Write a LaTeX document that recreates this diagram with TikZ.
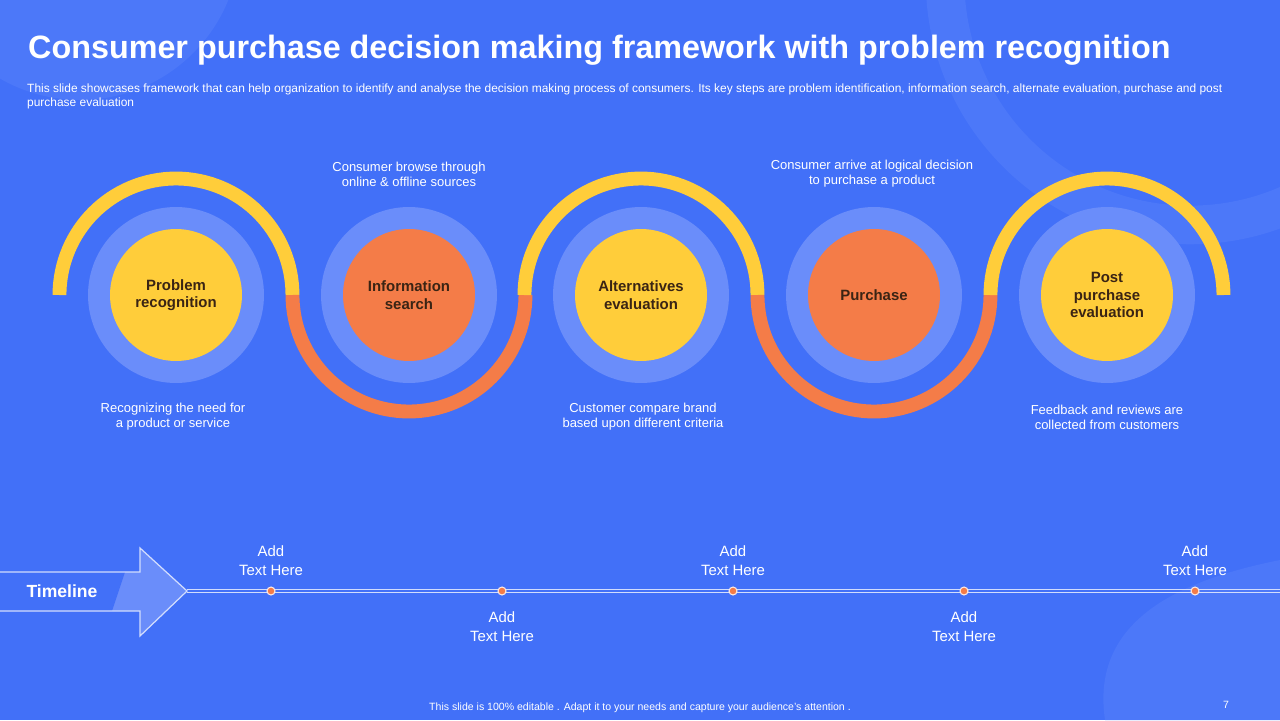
\documentclass[tikz,border=0pt]{standalone}
\usepackage{fontspec}
\setmainfont{Liberation Sans}
\usetikzlibrary{positioning}
\definecolor{bgblue}{HTML}{4270F8}
\definecolor{ringblue}{HTML}{6A8DFA}
\definecolor{decoblue}{HTML}{4C78F9}
\definecolor{stepyellow}{HTML}{FFCD3A}
\definecolor{steporange}{HTML}{F47C48}
\definecolor{stepink}{HTML}{3A2414}

\tikzset{
    ring/.style={circle,fill=ringblue,minimum size=3.52cm,inner sep=0pt},
    stepcore/.style={circle,minimum size=2.64cm,inner sep=0pt,align=center,
        font=\fontsize{8.5}{10}\selectfont\bfseries,text=stepink},
    note/.style={align=center,text=white,font=\fontsize{7.4}{8.6}\selectfont},
    tick/.style={circle,fill=steporange,draw=white!85!steporange,line width=0.6pt,
        minimum size=0.16cm,inner sep=0pt},
    band/.style={line width=7.9pt},
}

\begin{document}
\begin{tikzpicture}[x=0.02cm,y=-0.02cm]
        \fill[bgblue] (0,0) rectangle (1280,720);
        \useasboundingbox (0,0) rectangle (1280,720);

        % faint background shapes
        \fill[decoblue] (80,-60) circle (3.2cm);
        \draw[decoblue,line width=22pt] (1190,-20) circle (4.9cm);
        \fill[decoblue] (1280,560) .. controls (1180,580) and (1090,620) .. (1105,720) -- (1280,720) -- cycle;

        % title and description
        \node[anchor=west,text=white,font=\fontsize{18.4}{20}\selectfont\bfseries] (title) at (22,50)
            {Consumer purchase decision making framework with problem recognition};
        \node[anchor=north west,text=white,align=left,
              font=\fontsize{6.8}{7.9}\selectfont] (desc) at (21,78)
            {This slide showcases framework that can help organization to identify and analyse the decision making process of consumers. Its key steps are problem identification, information search, alternate evaluation, purchase and post\\purchase evaluation};

        % step circles
        \foreach \cx/\nm/\col/\txt in {176/prob/stepyellow/{Problem\\recognition},
                                       409/info/steporange/{Information\\search},
                                       641/alt/stepyellow/{Alternatives\\evaluation},
                                       874/buy/steporange/{Purchase},
                                       1107/post/stepyellow/{Post\\purchase\\evaluation}}{
            \node[ring] (\nm ring) at (\cx,295) {};
            \node[stepcore,fill=\col] (\nm) at (\cx,295) {\txt};
        }

        % winding bands
        \draw[band,stepyellow]  (59.5,295) arc[start angle=180,end angle=0,radius=2.33cm];
        \draw[band,steporange] (292.5,295) arc[start angle=180,end angle=360,radius=2.33cm];
        \draw[band,stepyellow] (524.5,295) arc[start angle=180,end angle=0,radius=2.33cm];
        \draw[band,steporange] (757.5,295) arc[start angle=180,end angle=360,radius=2.33cm];
        \draw[band,stepyellow] (990.5,295) arc[start angle=180,end angle=0,radius=2.33cm];

        % notes
        \node[note] (probnote) at (173,417) {Recognizing the need for\\a product or service};
        \node[note] (infonote) at (409,174) {Consumer browse through\\online \& offline sources};
        \node[note] (altnote)  at (643,417) {Customer compare brand\\based upon different criteria};
        \node[note] (buynote)  at (872,174) {Consumer arrive at logical decision\\to purchase a product};
        \node[note] (postnote) at (1107,417) {Feedback and reviews are\\collected from customers};

        % timeline
        \fill[ringblue] (0,572) -- (140,572) -- (140,548) -- (187,591) -- (140,636) -- (140,611) -- (0,611) -- cycle;
        \fill[bgblue] (0,572) -- (125,572) -- (112,611) -- (0,611) -- cycle;
        \draw[white!70!ringblue,line width=0.7pt] (0,572) -- (140,572) -- (140,548) -- (187,591) -- (140,636) -- (140,611) -- (0,611);
        \node[text=white,font=\fontsize{10}{12}\selectfont\bfseries] (timeline) at (62,591) {Timeline};
        \coordinate (tlstart) at (187,591);
        \coordinate (tlend) at (1280,591);
        \draw[white!70!ringblue,line width=0.5pt] ([yshift=1pt]tlstart) -- ([yshift=1pt]tlend);
        \draw[white!70!ringblue,line width=0.5pt] ([yshift=-1pt]tlstart) -- ([yshift=-1pt]tlend);
        \foreach \tx/\i/\pos/\gap in {271/1/above/0.1cm,502/2/below/0.2cm,733/3/above/0.1cm,964/4/below/0.2cm,1195/5/above/0.1cm}{
            \node[tick] (t\i) at (\tx,591) {};
            \node[note,font=\fontsize{8.5}{10.5}\selectfont,\pos=\gap of t\i] (t\i label) {Add\\Text Here};
        }

        % footer
        \node[text=white,font=\fontsize{6}{7}\selectfont] (footer) at (640,708)
            {This slide is 100\% editable . Adapt it to your needs and capture your audience's attention .};
        \node[text=white,font=\fontsize{6}{7}\selectfont] (pagenum) at (1226,705) {7};
\end{tikzpicture}
\end{document}
